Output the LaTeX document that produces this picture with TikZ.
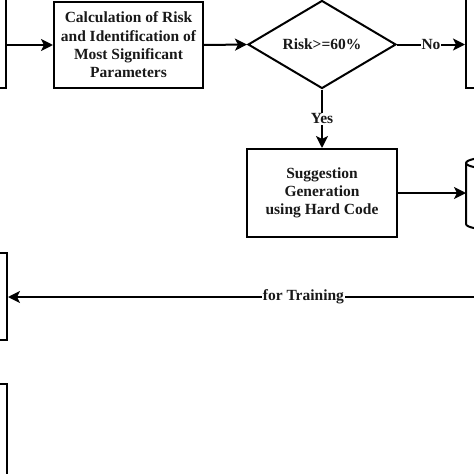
\documentclass[tikz,border=0pt]{standalone}
\usepackage{fontspec}
\setmainfont{Liberation Serif}
\usetikzlibrary{shapes.geometric,arrows.meta}
\begin{document}
\begin{tikzpicture}[x=1pt,y=-1pt,
  every node/.style={font=\bfseries\fontsize{15.5}{18.3}\selectfont, text=black!90},
  box/.style={draw, line width=2pt, rectangle, align=center, inner sep=0pt},
  dec/.style={draw, line width=2pt, diamond, inner sep=0pt, minimum width=148pt, minimum height=88pt, shape aspect=1.68},
  arr/.style={line width=2pt, -{Stealth[length=12pt,width=12pt,inset=3pt]}},
  lbl/.style={fill=white, inner sep=1pt, font=\bfseries\fontsize{15.5}{17}\selectfont}]
\useasboundingbox (0,0) rectangle (474,474);
\fill[white] (0,0) rectangle (474,474);
\begin{scope}
\clip (0,0) rectangle (474,474);
\node[box, minimum width=100pt, minimum height=110pt] (L1) at (-44,33) {};
\node[box, minimum width=149pt, minimum height=86pt] (calc) at (128.5,45) {Calculation of Risk\\and Identification of\\Most Significant\\Parameters};
\node[dec] (D) at (322,44.5) {Risk>=60\%};
\node[box, minimum width=108pt, minimum height=110pt] (R1) at (520,33) {};
\node[box, minimum width=150pt, minimum height=88pt] (S) at (322,193) {Suggestion\\Generation\\using Hard Code};
\coordinate (cyl) at (466,193);
\draw[line width=2pt] (466,163) -- (466,224) arc[start angle=180,end angle=0,x radius=30,y radius=6] -- (526,163) arc[start angle=0,end angle=-180,x radius=30,y radius=6] -- cycle;
\draw[line width=2pt] (466,163) arc[start angle=180,end angle=0,x radius=30,y radius=6];
\node[box, minimum width=100pt, minimum height=87pt] (L2) at (-43,296.5) {};
\node[box, minimum width=100pt, minimum height=110pt] (L3) at (-43,439) {};
\coordinate (tr) at (540,297);

\draw[arr] (L1.east |- calc.west) -- (calc.west);
\draw[arr] (calc.east) -- (D.west);
\draw[arr] (D.east) -- node[lbl] {No} (R1.west |- D.east);
\draw[arr] (D.south) -- node[lbl] {Yes} (S.north);
\draw[arr] (S.east) -- (cyl);
\draw[arr] (tr) -- node[lbl, pos=0.4447] {for Training} (L2.east |- tr);
\end{scope}
\end{tikzpicture}
\end{document}
